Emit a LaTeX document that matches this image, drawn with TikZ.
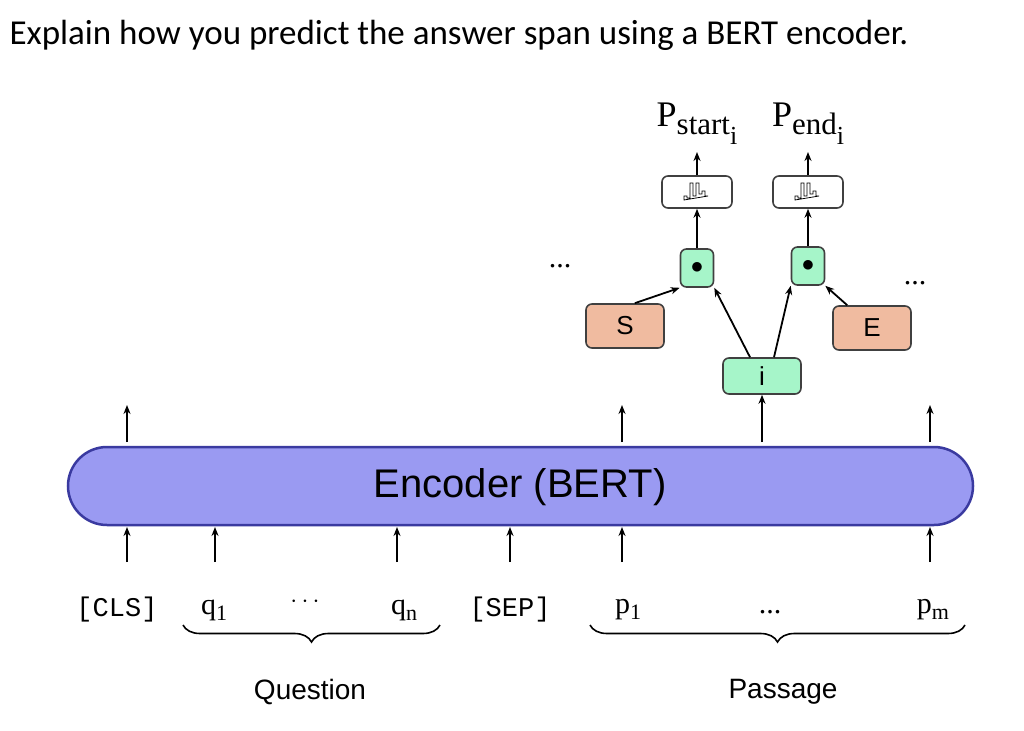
\documentclass[tikz,border=0pt]{standalone}
\usepackage{fontspec}
\setmainfont{Liberation Sans}
\newfontfamily\titlefont{Carlito}
\newfontfamily\serf{Liberation Serif}
\newfontfamily\ttf{Liberation Mono}
\usetikzlibrary{decorations.pathreplacing,arrows.meta}
\definecolor{encfill}{HTML}{9A9AF2}
\definecolor{encdraw}{HTML}{3A3AA0}
\definecolor{grn}{HTML}{A6F5C9}
\definecolor{sal}{HTML}{F0BBA0}
\begin{document}
\begin{tikzpicture}[x=1pt,y=-1pt,
  arr/.style={-{Stealth[length=9pt,width=7pt]},line width=1.8pt},
  box/.style={draw=black!75,line width=1.6pt,rounded corners=6pt,inner sep=0pt},
  gbox/.style={box,fill=grn},
  sbox/.style={box,fill=sal,minimum width=78pt,minimum height=44pt,font=\fontsize{26}{28}\selectfont},
  hbox/.style={box,fill=white,minimum width=70pt,minimum height=32pt},
  tok/.style={font=\fontsize{30}{32}\selectfont\serf},
  tt/.style={font=\fontsize{27}{29}\selectfont\ttf},
  lab/.style={font=\fontsize{28}{30}\selectfont},
  brace/.style={decorate,decoration={brace,mirror,amplitude=17pt},line width=1.6pt}]
\useasboundingbox (0,0) rectangle (1024,730);
\node[anchor=west,font=\fontsize{35}{40}\selectfont\titlefont] (title) at (6,35) {Explain how you predict the answer span using a BERT encoder.};
\node[draw=encdraw,fill=encfill,line width=2.5pt,rounded corners=39pt,minimum width=905pt,minimum height=78pt] (enc) at (520.5,486) {};
\node[font=\fontsize{40}{42}\selectfont] (enclab) at (520,487) {Encoder (BERT)};
% tokens
\node[tt] (cls) at (117,610) {[CLS]};
\node[tok] (q1) at (214,610) {q\raisebox{-6pt}{\fontsize{22}{22}\selectfont 1}};
\node[tok] (qd) at (305,602) {$\cdots$};
\node[tok] (qn) at (404,610) {q\raisebox{-6pt}{\fontsize{22}{22}\selectfont n}};
\node[tt] (sep) at (510,610) {[SEP]};
\node[tok] (p1) at (628,610) {p\raisebox{-6pt}{\fontsize{22}{22}\selectfont 1}};
\node[tok] (pd) at (770,612) {...};
\node[tok] (pm) at (933,610) {p\raisebox{-6pt}{\fontsize{22}{22}\selectfont m}};
\foreach \x/\n in {127/a,215/b,397/c,510/d,622/e,930/f}{
  \coordinate (in\n) at (\x,562);
  \draw[arr] (in\n) -- (\x,527);
}
\foreach \x/\n in {127/a,622/e,930/f}{
  \coordinate (out\n) at (\x,442);
  \draw[arr] (out\n) -- (\x,405);
}
\draw[brace] (183,625) -- (440,625);
\draw[brace] (590,625) -- (965,625);
\node[lab] (qlab) at (310,692) {Question};
\node[lab] (plab) at (783,692) {Passage};
% top part
\node[gbox,minimum width=78pt,minimum height=36pt,font=\fontsize{26}{28}\selectfont] (i) at (762,376) {i};
\coordinate (iin) at (762,442);
\draw[arr] (iin) -- (i);
\node[sbox] (S) at (625,326) {S};
\node[sbox] (E) at (872,328) {E};
\node[gbox,minimum width=33pt,minimum height=38pt] (d1) at (697,268) {\fontsize{30}{30}\selectfont$\bullet$};
\node[gbox,minimum width=33pt,minimum height=38pt] (d2) at (808,266) {\fontsize{30}{30}\selectfont$\bullet$};
\node[hbox] (h1) at (697,192) {};
\node[hbox] (h2) at (808,192) {};
\foreach \h in {h1,h2}{
  \draw[line width=0.8pt] ([xshift=-13pt,yshift=-8pt]\h.center) |- ++(3,-4) |- ++(3,2) |- ++(3,-15) |- ++(3,13) |- ++(3,-13) |- ++(3,11) |- ++(3,-3) |- ++(3,5) -- cycle;
}
\node[font=\fontsize{36}{38}\selectfont\serf] (ps) at (697,124) {P\raisebox{-8pt}{\fontsize{31}{31}\selectfont start\raisebox{-10pt}{\fontsize{26}{26}\selectfont i}}};
\node[font=\fontsize{36}{38}\selectfont\serf] (pe) at (808,124) {P\raisebox{-8pt}{\fontsize{31}{31}\selectfont end\raisebox{-10pt}{\fontsize{26}{26}\selectfont i}}};
\draw[arr] (S.north east) ++(-30,0) -- (d1.south west);
\draw[arr] ([xshift=-12pt]i.north) -- (d1.south east);
\draw[arr] ([xshift=12pt]i.north) -- (d2.south west);
\draw[arr] (E.north west) ++(15,0) -- (d2.south east);
\draw[arr] (d1) -- (h1);
\draw[arr] (d2) -- (h2);
\draw[arr] (h1) -- (697,152);
\draw[arr] (h2) -- (808,152);
\node[tok] (dl) at (560,266) {...};
\node[tok] (dr) at (915,283) {...};
\end{tikzpicture}
\end{document}
